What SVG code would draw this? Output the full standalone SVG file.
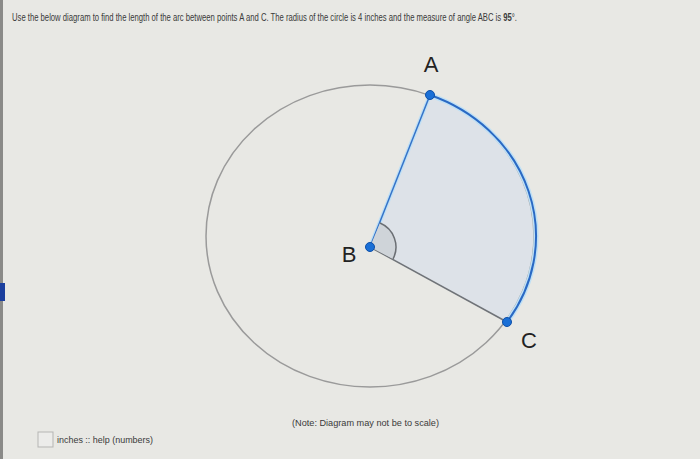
<svg xmlns="http://www.w3.org/2000/svg" width="700" height="459" viewBox="0 0 700 459">
<style>
.t{font-family:"Liberation Sans",Arial,sans-serif;fill:#3a3a3a}
.lbl{font-family:"Liberation Sans",Arial,sans-serif;fill:#222;font-size:22px}
.pt{fill:#1a6fd6;stroke:#0d4fa8;stroke-width:1}
</style>
<rect width="700" height="459" fill="#e8e8e4"/>
<rect x="0" y="0" width="3" height="459" fill="#8a8a88"/>
<rect x="0" y="283" width="5" height="18" fill="#1b3f9e"/>
<text class="t" x="12" y="21" font-size="10.5" textLength="505" lengthAdjust="spacingAndGlyphs">Use the below diagram to find the length of the arc between points A and C. The radius of the circle is 4 inches and the measure of angle ABC is <tspan font-weight="bold">95</tspan>°.</text>
<g id="sector">
<path d="M370,247 L430,95 A164,151 0 0 1 507,322 Z" fill="#dde2e8"/>
</g>
<g id="circle">
<ellipse cx="370" cy="236" rx="164" ry="151" fill="none" stroke="#9a9a9a" stroke-width="1.5"/>
</g>
<g id="connectors">
<path d="M430,95 A164,151 0 0 1 507,322" fill="none" stroke="#bfe0f5" stroke-width="5"/>
<path d="M430,95 A164,151 0 0 1 507,322" fill="none" stroke="#2a69c4" stroke-width="2"/>
<line x1="370" y1="247" x2="430" y2="95" stroke="#bfe0f5" stroke-width="4"/>
<line x1="370" y1="247" x2="430" y2="95" stroke="#3573c9" stroke-width="1.5"/>
<line x1="370" y1="247" x2="507" y2="322" stroke="#6f7378" stroke-width="1.5"/>
<path d="M370,247 L380,223 A26,26 0 0 1 393,259 Z" fill="#cfd4d9"/>
<path d="M380,223 A26,26 0 0 1 393,259" fill="none" stroke="#6b6f74" stroke-width="1.5"/>
</g>
<g id="A"><circle class="pt" cx="430" cy="95" r="4.5"/><text class="lbl" x="431" y="72" text-anchor="middle">A</text></g>
<g id="B"><circle class="pt" cx="370" cy="247" r="4.5"/><text class="lbl" x="349" y="262" text-anchor="middle">B</text></g>
<g id="C"><circle class="pt" cx="507" cy="322" r="4.5"/><text class="lbl" x="529" y="348" text-anchor="middle">C</text></g>
<text class="t" x="292" y="426" font-size="9.5" textLength="147" lengthAdjust="spacingAndGlyphs">(Note: Diagram may not be to scale)</text>
<rect x="38" y="432" width="15" height="15" fill="#ececea" stroke="#b5b5b3" stroke-width="1"/>
<text class="t" x="57" y="443" font-size="9" fill="#555" textLength="96" lengthAdjust="spacingAndGlyphs">inches :: help (numbers)</text>
</svg>
